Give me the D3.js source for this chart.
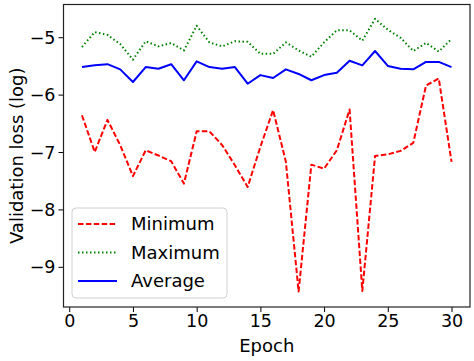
<!DOCTYPE html>
<html>
<head>
<meta charset="utf-8">
<script src="https://cdn.jsdelivr.net/npm/d3@7"></script>
<style>
  body { margin: 0; background: #fff; }
  svg { font-family: "DejaVu Sans", sans-serif; }
</style>
</head>
<body>
<div id="chart"></div>
<script>
var epochs = d3.range(1, 31);
var minimum = [-6.36, -7.00, -6.44, -6.88, -7.42, -6.97, -7.06, -7.16, -7.55, -6.64,
               -6.64, -6.88, -7.23, -7.61, -6.91, -6.27, -7.17, -9.43, -7.22, -7.29,
               -6.97, -6.26, -9.42, -7.07, -7.04, -6.98, -6.84, -5.84, -5.72, -7.17];
var maximum = [-5.17, -4.91, -4.96, -5.12, -5.39, -5.07, -5.16, -5.10, -5.23, -4.80,
               -5.09, -5.16, -5.07, -5.08, -5.29, -5.29, -5.09, -5.23, -5.34, -5.09,
               -4.88, -4.88, -5.06, -4.68, -4.87, -5.01, -5.24, -5.10, -5.25, -5.03];
var average = [-5.52, -5.49, -5.47, -5.56, -5.78, -5.52, -5.55, -5.47, -5.75, -5.42,
               -5.52, -5.55, -5.52, -5.81, -5.66, -5.71, -5.56, -5.64, -5.75, -5.66,
               -5.62, -5.41, -5.49, -5.24, -5.50, -5.55, -5.56, -5.43, -5.43, -5.52];
var xTicks = [0, 5, 10, 15, 20, 25, 30];
var yTicks = [-9, -8, -7, -6, -5];

var series = [
    {name: "Minimum", values: minimum, color: "#ff0000", dash: "5.5,2.4"},
    {name: "Maximum", values: maximum, color: "#008000", dash: "1.5,2.5"},
    {name: "Average", values: average, color: "#0000ff", dash: null}
];

var width = 474, height = 361;
var margin = {left: 63.5, right: 4, top: 4.5, bottom: 54};

var svg = d3.select("#chart").append("svg")
    .attr("width", width)
    .attr("height", height);

var x = d3.scaleLinear().domain([-0.45, 31.45]).range([margin.left, width - margin.right]);
var y = d3.scaleLinear().domain([-9.70, -4.43]).range([height - margin.bottom, margin.top]);

var line = d3.line()
    .x(function(d, i) { return x(epochs[i]); })
    .y(function(d) { return y(d); });

var plot = svg.append("g");

series.forEach(function(s) {
    plot.append("path")
        .datum(s.values)
        .attr("fill", "none")
        .attr("stroke", s.color)
        .attr("stroke-width", 2)
        .attr("stroke-dasharray", s.dash)
        .attr("stroke-linejoin", "round")
        .attr("d", line);
});

// axes
var xAxis = svg.append("g")
    .attr("transform", "translate(0," + (height - margin.bottom) + ")")
    .call(d3.axisBottom(x).tickValues(xTicks).tickSize(5).tickPadding(3).tickFormat(d3.format("d")));
var yAxis = svg.append("g")
    .attr("transform", "translate(" + margin.left + ",0)")
    .call(d3.axisLeft(y).tickValues(yTicks).tickSize(5).tickPadding(3)
        .tickFormat(function(d) { return "\u2212" + Math.abs(d); }));

[xAxis, yAxis].forEach(function(a) {
    a.select(".domain").remove();
    a.selectAll("text").attr("font-size", 17.5).attr("fill", "#000")
        .attr("font-family", "DejaVu Sans");
    a.selectAll("line").attr("stroke", "#000").attr("stroke-width", 1);
});
yAxis.selectAll("text").attr("dy", "0.35em");

// frame
svg.append("rect")
    .attr("x", margin.left)
    .attr("y", margin.top)
    .attr("width", width - margin.right - margin.left)
    .attr("height", height - margin.bottom - margin.top)
    .attr("fill", "none")
    .attr("stroke", "#222")
    .attr("stroke-width", 1.2);

// axis labels
svg.append("text")
    .attr("x", (margin.left + width - margin.right) / 2)
    .attr("y", 352)
    .attr("text-anchor", "middle")
    .attr("font-size", 18)
    .text("Epoch");

svg.append("text")
    .attr("transform", "translate(23," + ((margin.top + height - margin.bottom) / 2) + ") rotate(-90)")
    .attr("text-anchor", "middle")
    .attr("font-size", 18)
    .text("Validation loss (log)");

// legend
var legend = svg.append("g").attr("transform", "translate(72,208)");
legend.append("rect")
    .attr("width", 155)
    .attr("height", 90)
    .attr("rx", 4)
    .attr("fill", "#fff")
    .attr("fill-opacity", 0.8)
    .attr("stroke", "#d0d0d0")
    .attr("stroke-width", 1);

series.forEach(function(s, i) {
    var ly = 16 + i * 28.5;
    legend.append("line")
        .attr("x1", 6).attr("x2", 45)
        .attr("y1", ly).attr("y2", ly)
        .attr("stroke", s.color)
        .attr("stroke-width", 2)
        .attr("stroke-dasharray", s.dash);
    legend.append("text")
        .attr("x", 59)
        .attr("y", ly)
        .attr("dy", "0.35em")
        .attr("font-size", 18)
        .text(s.name);
});
</script>
</body>
</html>
